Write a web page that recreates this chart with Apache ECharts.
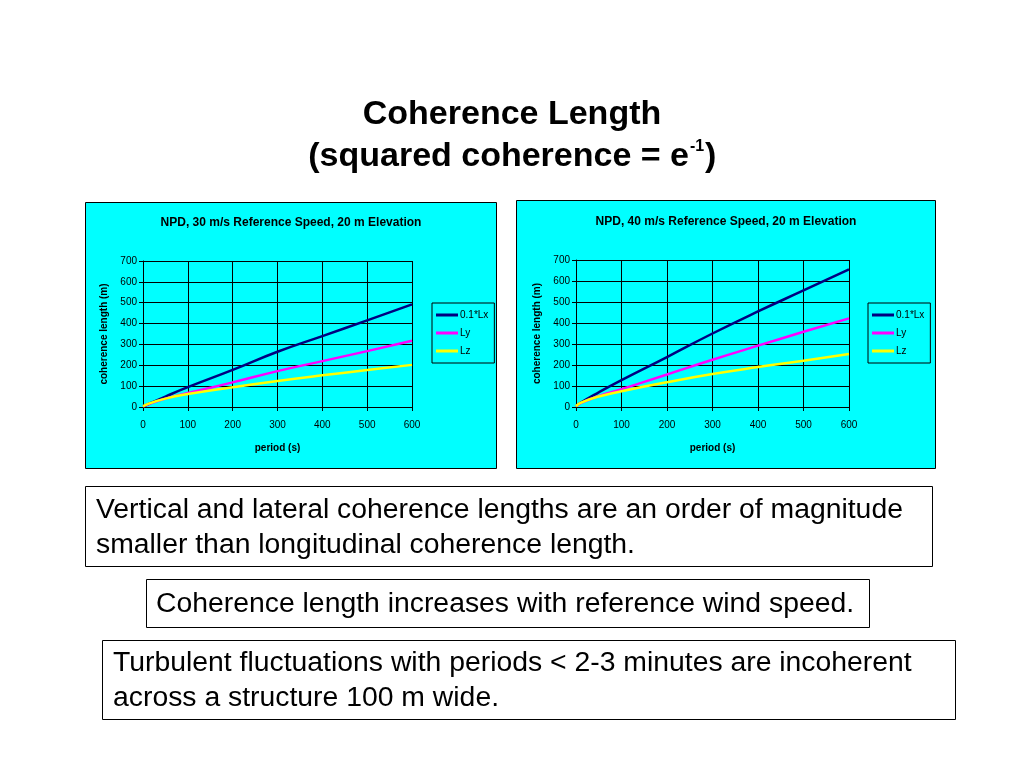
<!DOCTYPE html>
<html>
<head>
<meta charset="utf-8">
<script src="https://cdn.jsdelivr.net/npm/echarts@6/dist/echarts.min.js"></script>
<style>
  html, body { margin: 0; padding: 0; background: #fff; }
  #main { width: 1024px; height: 768px; }
</style>
</head>
<body>
<div id="main"></div>
<script>
// period (s)
var periods = [0, 10, 50, 100, 200, 300, 400, 500, 600];

// 30 m/s reference speed
var lx30 = [3, 12, 50, 95, 178, 265, 340, 415, 492];
var ly30 = [3, 12, 40, 67, 118, 172, 220, 268, 318];
var lz30 = [3, 14, 40, 62, 95, 125, 152, 177, 202];

// 40 m/s reference speed
var lx40 = [3, 20, 70, 128, 238, 350, 455, 555, 655];
var ly40 = [3, 18, 52, 85, 155, 225, 292, 358, 422];
var lz40 = [3, 20, 50, 75, 118, 157, 190, 220, 252];

var seriesNames = ["0.1*Lx", "Ly", "Lz"];
var seriesColors = ["#000080", "#ff00ff", "#ffff00"];

function pairs(ys) {
  return periods.map(function (p, i) { return [p, ys[i]]; });
}

var myChart = echarts.init(document.getElementById("main"));

function makeAxes(idx) {
  var axisCommon = {
    gridIndex: idx,
    type: "value",
    axisLine: { show: true, lineStyle: { color: "#000", width: 1 } },
    axisTick: { show: true, length: 4, lineStyle: { color: "#000" } },
    splitLine: { show: true, lineStyle: { color: "#000", width: 1 } },
    axisLabel: { color: "#000", fontFamily: "Liberation Sans", fontSize: 10 }
  };
  var x = Object.assign({}, axisCommon, {
    min: 0, max: 600, interval: 100,
    name: "period (s)", nameLocation: "middle", nameGap: 36,
    nameTextStyle: { color: "#000", fontFamily: "Liberation Sans", fontSize: 10, fontWeight: "bold" },
    axisLabel: Object.assign({}, axisCommon.axisLabel, { margin: 13 })
  });
  var y = Object.assign({}, axisCommon, {
    min: 0, max: 700, interval: 100,
    name: "coherence length (m)", nameLocation: "middle", nameGap: 34,
    nameTextStyle: { color: "#000", fontFamily: "Liberation Sans", fontSize: 10, fontWeight: "bold" },
    axisLabel: Object.assign({}, axisCommon.axisLabel, { margin: 6 })
  });
  return { x: x, y: y };
}

var a0 = makeAxes(0), a1 = makeAxes(1);

function lineSeries(name, color, data, idx) {
  return {
    name: name, type: "line", xAxisIndex: idx, yAxisIndex: idx,
    data: pairs(data), smooth: true, showSymbol: false, symbol: "none",
    lineStyle: { color: color, width: 2.5 }, itemStyle: { color: color },
    z: 5
  };
}

function legendAt(left, top) {
  return {
    left: left, top: top, width: 50,
    orient: "vertical", data: seriesNames,
    icon: "rect", itemWidth: 22, itemHeight: 3, itemGap: 8,
    padding: [7, 6, 7, 4],
    backgroundColor: "#00ffff", borderColor: "#000", borderWidth: 1,
    textStyle: { color: "#000", fontFamily: "Liberation Sans", fontSize: 10, padding: [0, 0, 0, -3] },
    selectedMode: false
  };
}

var textFont = "Liberation Sans";

option = {
  backgroundColor: "#fff",
  animation: false,
  graphic: [
    // chart panels
    { type: "rect", z: -10, shape: { x: 85.5, y: 202.5, width: 411, height: 266 },
      style: { fill: "#00ffff", stroke: "#000", lineWidth: 1 } },
    { type: "rect", z: -10, shape: { x: 516.5, y: 200.5, width: 419, height: 268 },
      style: { fill: "#00ffff", stroke: "#000", lineWidth: 1 } },
    // panel titles
    { type: "text", x: 291, y: 217, style: { text: "NPD, 30 m/s Reference Speed, 20 m Elevation",
      fill: "#000", font: "bold 12px Liberation Sans", textAlign: "center" } },
    { type: "text", x: 726, y: 216, style: { text: "NPD, 40 m/s Reference Speed, 20 m Elevation",
      fill: "#000", font: "bold 12px Liberation Sans", textAlign: "center" } },
    // page title
    { type: "text", x: 512, y: 98, style: { text: "Coherence Length", fill: "#000",
      font: "bold 34px " + textFont, textAlign: "center" } },
    { type: "text", x: 689, y: 140, style: { text: "(squared coherence = e", fill: "#000",
      font: "bold 34px " + textFont, textAlign: "right" } },
    { type: "text", x: 690, y: 139, style: { text: "-1", fill: "#000",
      font: "bold 16px " + textFont, textAlign: "left" } },
    { type: "text", x: 705, y: 140, style: { text: ")", fill: "#000",
      font: "bold 34px " + textFont, textAlign: "left" } },
    // text boxes
    { type: "rect", shape: { x: 85.5, y: 486.5, width: 847, height: 80 },
      style: { fill: "#fff", stroke: "#000", lineWidth: 1 } },
    { type: "text", x: 96, y: 493, scaleX: 1.05, style: {
      text: "Vertical and lateral coherence lengths are an order of magnitude\nsmaller than longitudinal coherence length.",
      fill: "#000", font: "27px " + textFont, lineHeight: 35 } },
    { type: "rect", shape: { x: 146.5, y: 579.5, width: 723, height: 48 },
      style: { fill: "#fff", stroke: "#000", lineWidth: 1 } },
    { type: "text", x: 156, y: 587, scaleX: 1.05, style: {
      text: "Coherence length increases with reference wind speed.",
      fill: "#000", font: "27px " + textFont, lineHeight: 35 } },
    { type: "rect", shape: { x: 102.5, y: 640.5, width: 853, height: 79 },
      style: { fill: "#fff", stroke: "#000", lineWidth: 1 } },
    { type: "text", x: 113, y: 646, scaleX: 1.05, style: {
      text: "Turbulent fluctuations with periods < 2-3 minutes are incoherent\nacross a structure 100 m wide.",
      fill: "#000", font: "27px " + textFont, lineHeight: 35 } }
  ],
  legend: [legendAt(432, 303), legendAt(868, 303)],
  grid: [
    { left: 143, top: 261, width: 269, height: 146 },
    { left: 576, top: 260, width: 273, height: 147 }
  ],
  xAxis: [a0.x, a1.x],
  yAxis: [a0.y, a1.y],
  series: [
    lineSeries(seriesNames[0], seriesColors[0], lx30, 0),
    lineSeries(seriesNames[1], seriesColors[1], ly30, 0),
    lineSeries(seriesNames[2], seriesColors[2], lz30, 0),
    lineSeries(seriesNames[0], seriesColors[0], lx40, 1),
    lineSeries(seriesNames[1], seriesColors[1], ly40, 1),
    lineSeries(seriesNames[2], seriesColors[2], lz40, 1)
  ]
};

option && myChart.setOption(option);
</script>
</body>
</html>
